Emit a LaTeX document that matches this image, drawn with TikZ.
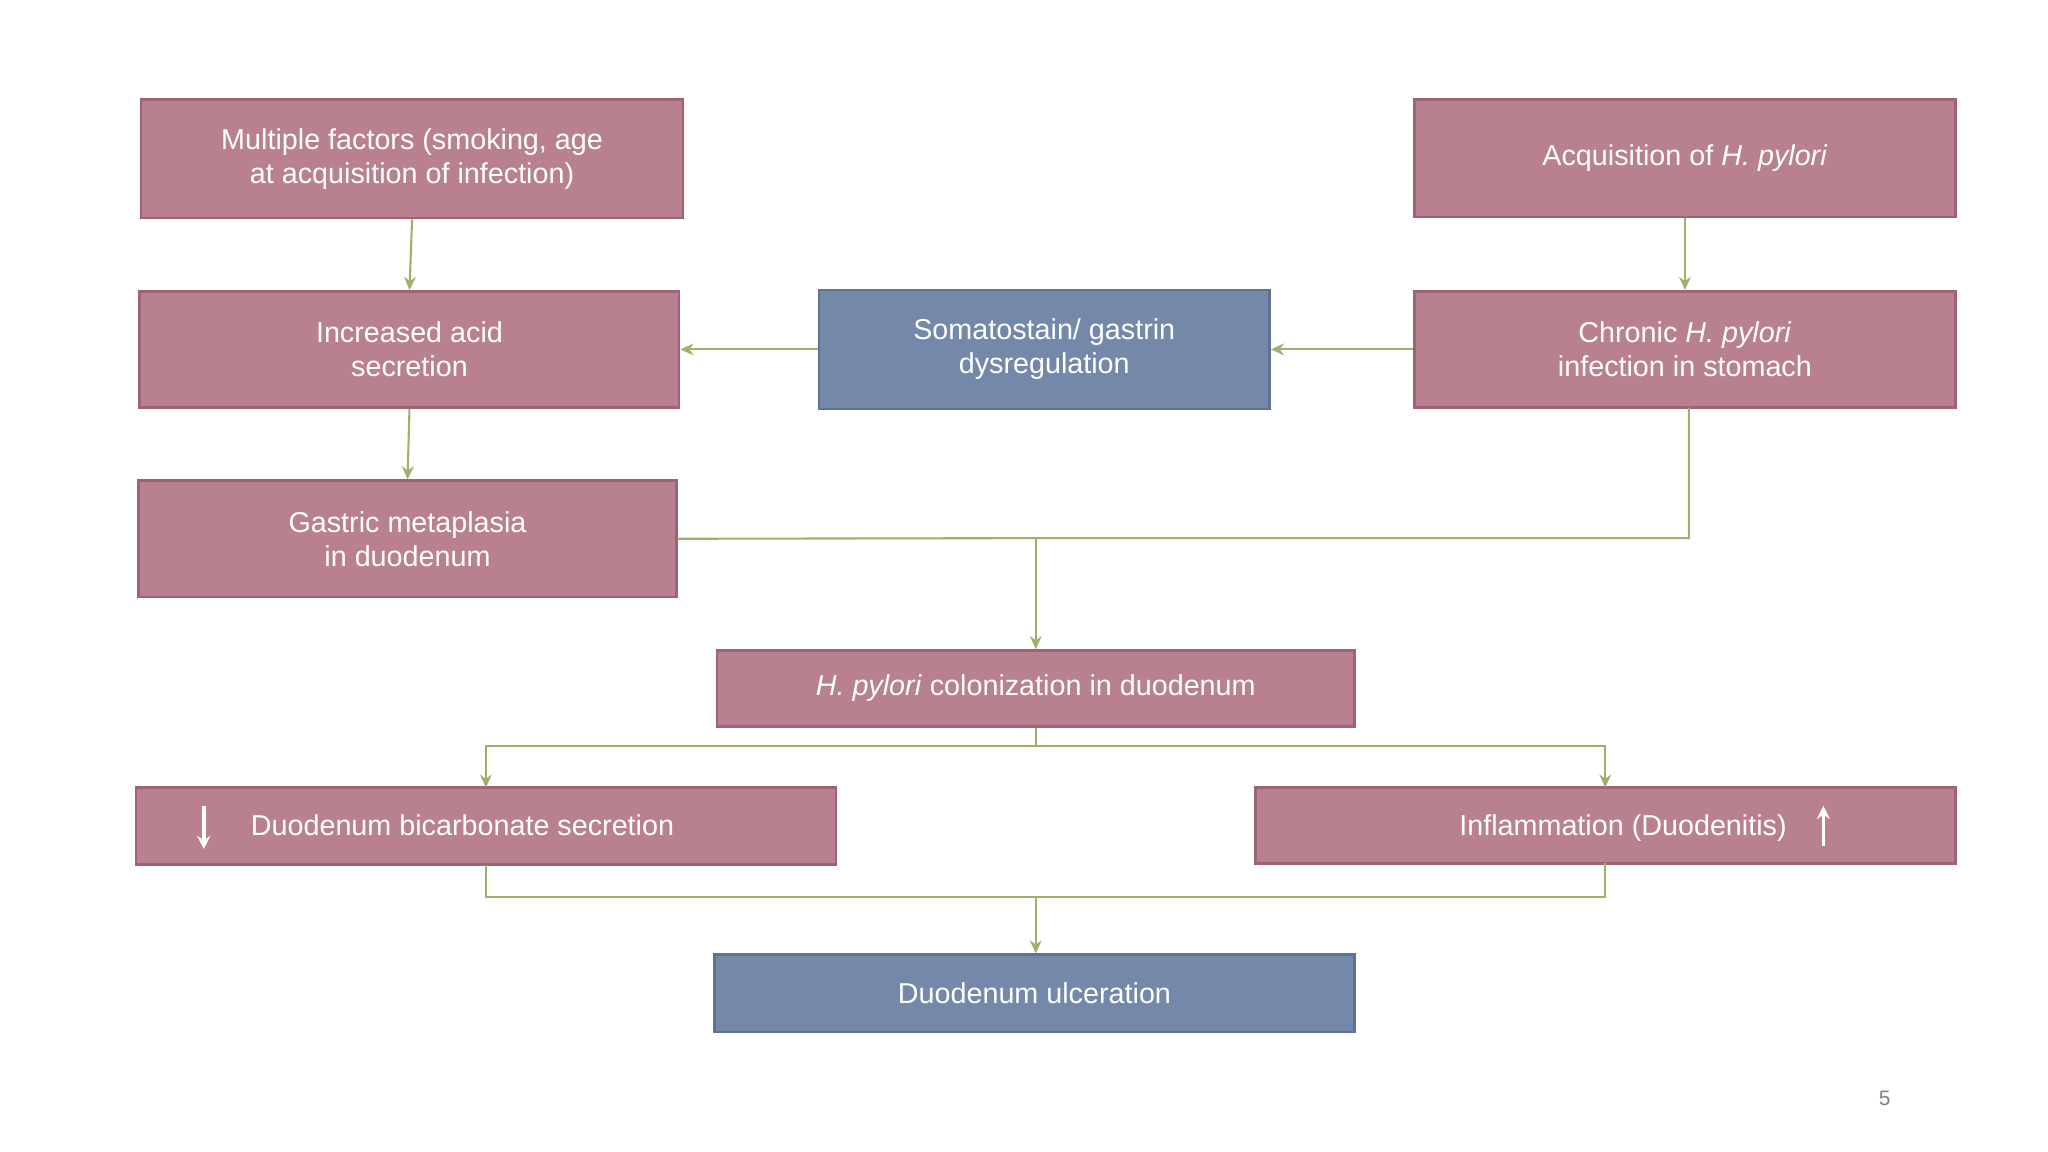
\documentclass[tikz,border=0pt]{standalone}
\usepackage{fontspec}
\setmainfont{Liberation Sans}
\usetikzlibrary{arrows.meta}
\definecolor{pk}{HTML}{B9808F}
\definecolor{pkb}{HTML}{9E6474}
\definecolor{bl}{HTML}{7489AA}
\definecolor{blb}{HTML}{5E7293}
\definecolor{gr}{HTML}{9DB16C}
\begin{document}
\begin{tikzpicture}[x=0.5pt,y=-0.5pt,
 box/.style={draw=pkb,line width=1pt,fill=pk,text=white,align=center,font=\fontsize{11}{13}\selectfont,inner sep=0pt},
 bbox/.style={box,draw=blb,fill=bl},
 con/.style={draw=gr,line width=0.8pt},
 arr/.style={con,-{Stealth[length=5pt,width=4.5pt]}}]
\useasboundingbox (0,0) rectangle (1568,882);
\fill[white] (0,0) rectangle (1568,882);
\newcommand{\bx}[6]{\node[#2,minimum width=(#5-#3)*0.5pt,minimum height=(#6-#4)*0.5pt] (#1) at ({(#3+#5)/2},{(#4+#6)/2})}
\bx{A}{box}{108}{76}{523}{167} {Multiple factors (smoking, age\\at acquisition of infection)};
\bx{B}{box}{1083}{76}{1497}{166} {Acquisition of \textit{H. pylori}};
\bx{C}{box}{107}{223}{520}{312} {Increased acid\\secretion};
\bx{D}{bbox}{627}{222}{972}{313} {Somatostain/ gastrin\\dysregulation};
\bx{E}{box}{1083}{223}{1497}{312} {Chronic \textit{H. pylori}\\infection in stomach};
\bx{F}{box}{106}{368}{518}{457} {Gastric metaplasia\\in duodenum};
\bx{G}{box}{549}{498}{1037}{556} {\textit{H. pylori} colonization in duodenum};
\bx{H}{box}{104}{603}{640}{662} {};
\bx{I}{box}{961}{603}{1497}{661} {};
\bx{J}{bbox}{547}{731}{1037}{790} {Duodenum ulceration};
\node[text=white,font=\fontsize{11}{13}\selectfont,anchor=west] (ht) at (185,632) {Duodenum bicarbonate secretion};
\node[text=white,font=\fontsize{11}{13}\selectfont,anchor=east] (it) at (1375,634) {Inflammation (Duodenitis)};
\draw[white,line width=1.4pt,-{Stealth[length=5pt,width=5pt]}] (156,617) -- (156,650);
\draw[white,line width=1.4pt,-{Stealth[length=5pt,width=5pt]}] (1396,648) -- (1396,617);
\node[text=gray,font=\fontsize{8}{9}\selectfont] (pg) at (1443,841) {5};
\coordinate (m1) at (793,412);
\coordinate (m2) at (793,571);
\coordinate (m3) at (793,687);
\draw[arr] (A.south) -- (C.north);
\draw[arr] (B.south) -- (E.north);
\draw[arr] (E.west) -- (D.east);
\draw[arr] (D.west) -- (C.east);
\draw[arr] (C.south) -- (F.north);
\draw[con] (F.east) -- (m1) -- (1293,412) -- (1293,312);
\draw[arr] (m1) -- (m1|-G.north);
\draw[con] (m1|-G.south) -- (m2);
\draw[arr] (m2) -- (372,571) -- (372,603);
\draw[arr] (m2) -- (1229,571) -- (1229,603);
\draw[con] (372,662) -- (372,687) -- (1229,687) -- (1229,661);
\draw[arr] (m3) -- (m3|-J.north);
\end{tikzpicture}
\end{document}
